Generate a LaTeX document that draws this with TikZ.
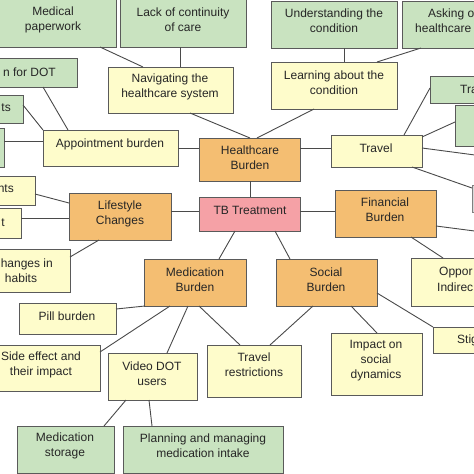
\documentclass[tikz,border=0pt]{standalone}
\usepackage{fontspec}
\setmainfont{Liberation Sans}
\usetikzlibrary{calc}
\definecolor{org}{HTML}{F4BE72}
\definecolor{yel}{HTML}{FEFCCB}
\definecolor{grn}{HTML}{C9E3C0}
\definecolor{pnk}{HTML}{F5A1A6}
\definecolor{gry}{HTML}{DADADA}
\definecolor{bdr}{HTML}{5A5A5A}
\definecolor{lnc}{HTML}{4A4A4A}
\newcommand\mybox[6]{\node[#1,anchor=north west,minimum width={((#5)-(#3))*1pt},minimum height={((#6)-(#4))*1pt}] (#2) at (#3,#4) {};}
\tikzset{
  basebox/.style={draw=bdr,line width=0.9pt,inner sep=0pt,outer sep=0pt,rectangle},
  ybox/.style={basebox,fill=yel},
  gbox/.style={basebox,fill=grn},
  obox/.style={basebox,fill=org},
  pbox/.style={basebox,fill=pnk},
  xbox/.style={basebox,fill=gry,draw=gray},
  lbl/.style={font=\fontsize{12}{15}\selectfont,align=center,inner sep=0pt,text=black!85},
  conn/.style={draw=lnc,line width=0.9pt}
}
\begin{document}
\begin{tikzpicture}[x=1pt,y=-1pt]
\useasboundingbox (0,0) rectangle (474,474);
\fill[white] (0,0) rectangle (474,474);
\clip (0,0) rectangle (474,474);
% coordinates for free ends
\coordinate (r1) at (490,157);
\coordinate (r2) at (490,233);
% connectors first (under boxes)
% boxes
\mybox{gbox}{medpap}{-10}{-10}{116}{47}
\mybox{gbox}{lack}{120}{-10}{246}{47}
\mybox{gbox}{under}{271}{1}{397}{48}
\mybox{gbox}{asking}{402}{1}{520}{48}
\mybox{gbox}{dot}{-20}{58}{77}{87}
\mybox{gbox}{ts}{-20}{95}{23}{123}
\mybox{gbox}{sliver}{-20}{128}{4}{167}
\mybox{gbox}{tra}{430}{76}{520}{103}
\mybox{gbox}{gtwo}{455}{105}{520}{146}
\mybox{gbox}{medstor}{17}{426}{114}{473}
\mybox{gbox}{plan}{123}{426}{283}{473}
\mybox{xbox}{grey}{472}{185}{520}{212}
\mybox{ybox}{nav}{108}{67}{233}{113}
\mybox{ybox}{learn}{271}{62}{397}{109}
\mybox{ybox}{appt}{43}{130}{178}{166}
\mybox{ybox}{travel}{331}{135}{422}{167}
\mybox{ybox}{oppor}{411}{258}{520}{306}
\mybox{ybox}{stig}{433}{327}{520}{353}
\mybox{ybox}{impact}{331}{333}{422}{395}
\mybox{ybox}{travr}{207}{345}{301}{397}
\mybox{ybox}{video}{108}{353}{197}{400}
\mybox{ybox}{side}{-18}{345}{100}{391}
\mybox{ybox}{pill}{19}{303}{116}{334}
\mybox{ybox}{habits}{-30}{249}{70}{292}
\mybox{ybox}{nts}{-30}{176}{35}{205}
\mybox{ybox}{tt}{-30}{208}{21}{238}
\mybox{obox}{hc}{199}{138}{300}{181}
\mybox{obox}{life}{69}{193}{171}{240}
\mybox{obox}{fin}{335}{190}{436}{237}
\mybox{obox}{med}{144}{259}{246}{306}
\mybox{obox}{soc}{276}{259}{377}{306}
\mybox{pbox}{tb}{199}{197}{300}{231}
% connectors
\draw[conn] ([shift={(82,46)}]nav.north west) -- ([shift={(51,0)}]hc.north west);
\draw[conn] ([shift={(43,47)}]learn.north west) -- ([shift={(58,0)}]hc.north west);
\draw[conn] ([shift={(110,57)}]medpap.north west) -- ([shift={(35,0)}]nav.north west);
\draw[conn] ([shift={(60,57)}]lack.north west) -- ([shift={(72,0)}]nav.north west);
\draw[conn] ([shift={(73,47)}]under.north west) -- ([shift={(73,0)}]learn.north west);
\draw[conn] ([shift={(19,47)}]asking.north west) -- ([shift={(106,0)}]learn.north west);
\draw[conn] ([shift={(63,29)}]dot.north west) -- ([shift={(25,0)}]appt.north west);
\draw[conn] ([shift={(43,10)}]ts.north west) -- (appt.north west);
\draw[conn] ([shift={(24,13)}]sliver.north west) -- ([shift={(0,11)}]appt.north west);
\draw[conn] ([shift={(135,18)}]appt.north west) -- ([shift={(0,10)}]hc.north west);
\draw[conn] ([shift={(101,10)}]hc.north west) -- ([shift={(0,13)}]travel.north west);
\draw[conn] ([shift={(51,43)}]hc.north west) -- ([shift={(51,0)}]tb.north west);
\draw[conn] ([shift={(73,0)}]travel.north west) -- ([shift={(0,12)}]tra.north west);
\draw[conn] ([shift={(91,2)}]travel.north west) -- ([shift={(0,17)}]gtwo.north west);
\draw[conn] ([shift={(91,13)}]travel.north west) -- (r1);
\draw[conn] ([shift={(81,32)}]travel.north west) -- ([shift={(0,3)}]grey.north west);
\draw[conn] ([shift={(102,18)}]life.north west) -- ([shift={(0,14)}]tb.north west);
\draw[conn] ([shift={(65,18)}]nts.north west) -- ([shift={(0,10)}]life.north west);
\draw[conn] ([shift={(51,10)}]tt.north west) -- ([shift={(0,25)}]life.north west);
\draw[conn] ([shift={(100,8)}]habits.north west) -- ([shift={(30,47)}]life.north west);
\draw[conn] ([shift={(101,14)}]tb.north west) -- ([shift={(0,21)}]fin.north west);
\draw[conn] ([shift={(101,36)}]fin.north west) -- (r2);
\draw[conn] ([shift={(76,47)}]fin.north west) -- ([shift={(32,0)}]oppor.north west);
\draw[conn] ([shift={(36,34)}]tb.north west) -- ([shift={(75,0)}]med.north west);
\draw[conn] ([shift={(76,34)}]tb.north west) -- ([shift={(14,0)}]soc.north west);
\draw[conn] ([shift={(101,34)}]soc.north west) -- (stig.north west);
\draw[conn] ([shift={(1,47)}]med.north west) -- ([shift={(97,6)}]pill.north west);
\draw[conn] ([shift={(26,47)}]med.north west) -- ([shift={(118,7)}]side.north west);
\draw[conn] ([shift={(44,47)}]med.north west) -- ([shift={(59,0)}]video.north west);
\draw[conn] ([shift={(55,47)}]med.north west) -- ([shift={(33,0)}]travr.north west);
\draw[conn] ([shift={(37,47)}]soc.north west) -- ([shift={(63,0)}]travr.north west);
\draw[conn] ([shift={(75,47)}]soc.north west) -- ([shift={(46,0)}]impact.north west);
\draw[conn] ([shift={(18,47)}]video.north west) -- ([shift={(87,0)}]medstor.north west);
\draw[conn] ([shift={(41,47)}]video.north west) -- ([shift={(29,0)}]plan.north west);
% texts
\node[lbl] at (53,20) {Medical\\paperwork};
\node[lbl] at (183,20) {Lack of continuity\\of care};
\node[lbl] at (334,21) {Understanding the\\condition};
\node[lbl,anchor=west] at (428,14) {Asking o};
\node[lbl,anchor=west] at (415,28) {healthcare};
\node[lbl,anchor=east] at (56,72) {n for DOT};
\node[lbl,anchor=east] at (11,108) {ts};
\node[lbl,anchor=west] at (460,89) {Tra};
\node[lbl] at (65,446) {Medication\\storage};
\node[lbl] at (203,446) {Planning and managing\\medication intake};
\node[lbl] at (170,87) {Navigating the\\healthcare system};
\node[lbl] at (334,83) {Learning about the\\condition};
\node[lbl] at (110,144) {Appointment burden};
\node[lbl] at (376,148) {Travel};
\node[lbl,anchor=west] at (439,273) {Oppor};
\node[lbl,anchor=west] at (437,287) {Indirec};
\node[lbl,anchor=west] at (457,340) {Stig};
\node[lbl] at (376,361) {Impact on\\social\\dynamics};
\node[lbl] at (254,365) {Travel\\restrictions};
\node[lbl] at (152,374) {Video DOT\\users};
\node[lbl] at (41,365) {Side effect and\\their impact};
\node[lbl] at (67,316) {Pill burden};
\node[lbl,anchor=east] at (53,264) {hanges in};
\node[lbl] at (21,278) {habits};
\node[lbl,anchor=east] at (14,189) {nts};
\node[lbl,anchor=east] at (5,223) {t};
\node[lbl] at (250,158) {Healthcare\\Burden};
\node[lbl] at (120,214) {Lifestyle\\Changes};
\node[lbl] at (385,210) {Financial\\Burden};
\node[lbl] at (195,280) {Medication\\Burden};
\node[lbl] at (326,280) {Social\\Burden};
\node[lbl] at (250,210) {TB Treatment};
\end{tikzpicture}
\end{document}
